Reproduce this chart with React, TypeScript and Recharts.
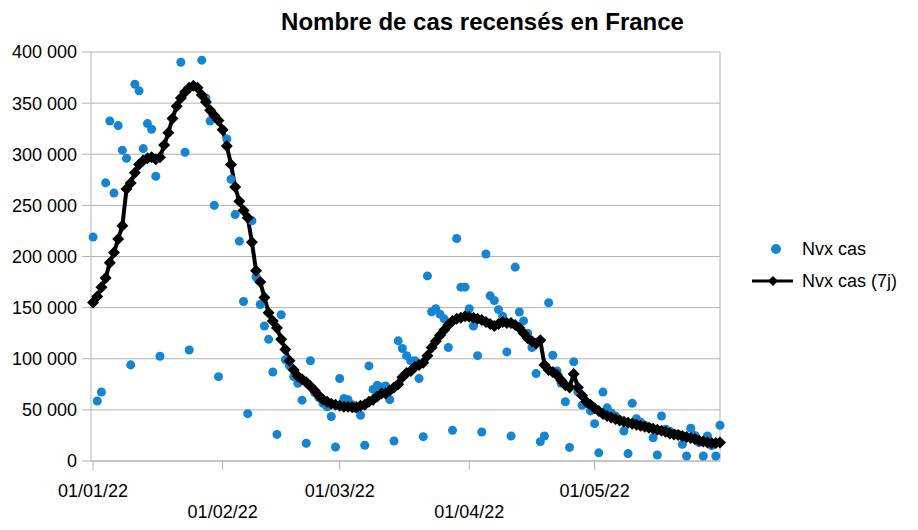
import React from 'react';
import {
  ComposedChart,
  Scatter,
  Line,
  XAxis,
  YAxis,
  CartesianGrid,
  ReferenceLine,
  Legend
} from 'recharts';

// day index 0 = 01/01/22, last = 31/05/22
const monthTicks = [0, 31, 59, 90, 120];
const monthLabels = ['01/01/22', '01/02/22', '01/03/22', '01/04/22', '01/05/22'];
const yTicks = [0, 50000, 100000, 150000, 200000, 250000, 300000, 350000, 400000];
const Y_MAX = 400000;
const LAST_DAY = 150;

// daily new cases (values above 400 000 fall off the chart and are not drawn)
const newCases = [
  219000, 58700, 67500, 272000, 332500, 262000, 328000, 304000, 296000, 94000,
  368500, 362000, 305500, 330000, 324500, 278500, 102500, 464800, 436200, 425200,
  405000, 390000, 302000, 108500, 501600, 428000, 392000, 355000, 332500, 250000,
  82500, 417000, 315000, 275500, 241000, 215000, 156000, 46300, 235000, 180000,
  153000, 132000, 119000, 87000, 26000, 143000, 99000, 93000, 82500, 76000,
  59500, 17300, 98000, 67000, 62000, 56500, 53000, 43500, 13700, 80700,
  61000, 60000, 55000, 51000, 44800, 15400, 93000, 70000, 74000, 72000,
  73400, 60000, 19600, 117500, 110000, 103000, 98000, 98000, 80600, 23800,
  181000, 146000, 149000, 143600, 139000, 111000, 30000, 217600, 170000, 170000,
  149000, 132000, 103000, 28400, 202500, 161500, 157000, 148000, 141500, 106700,
  24400, 189600, 145700, 137000, 125000, 111000, 85500, 18900, 24400, 154800,
  103400, 88000, 76000, 58000, 13300, 97000, 67600, 54600, 56000, 49000,
  36500, 8000, 67400, 52000, 47000, 44000, 40000, 29300, 7200, 56400,
  41400, 38000, 35000, 33000, 22800, 5900, 44000, 31000, 29000, 27000,
  26000, 16300, 4900, 32000, 25000, 18000, 4900, 24400, 15000, 4900,
  35000
];

// 7-day average
const avg7 = [
  155000, 161000, 170000, 179000, 194000, 204000, 217000, 230000, 266000, 272000,
  282000, 290000, 294000, 296000, 297000, 295000, 297000, 309000, 321000, 335000,
  347000, 355000, 361000, 365000, 367000, 365000, 358000, 351000, 343000, 338000,
  333000, 324000, 308000, 290000, 268000, 254000, 245000, 238000, 214000, 186000,
  175000, 160000, 145000, 137000, 130000, 119000, 109000, 98000, 89000, 83000,
  80000, 77000, 73000, 69000, 64000, 60000, 58000, 56000, 55000, 54000,
  53000, 53000, 52500, 52500, 54000, 55000, 58000, 60000, 63000, 66000,
  66000, 69000, 72000, 75000, 82000, 86000, 88000, 92000, 94000, 96000,
  103000, 111000, 117000, 123000, 128000, 133000, 137000, 139000, 140000, 141500,
  141000, 140000, 139000, 138000, 136000, 134000, 132000, 134000, 136000, 135000,
  135000, 133000, 130000, 125000, 120000, 117000, 115000, 118000, 94000, 89000,
  87000, 84000, 79000, 74000, 72000, 85000, 72000, 64000, 58000, 55000,
  51500, 49000, 46000, 44000, 42500, 41000, 39500, 38500, 37500, 36500,
  35500, 34500, 33500, 32500, 31500, 30500, 29500, 28500, 27000, 26000,
  25500, 24500, 23500, 22500, 21500, 20000, 19000, 18000, 17500, 17500,
  18000
];

const BLUE = '#1585d2';
const GRID = '#b3b3b3';

const lineRows = avg7.map((avg, day) => ({ day, avg }));
const scatterRows = newCases
  .map((cases, day) => ({ day, cases }))
  .filter(r => r.cases <= Y_MAX);

const formatY = (v: number) => (v === 0 ? '0' : `${Math.round(v / 1000)} 000`);

const diamondPath = (cx: number, cy: number, s = 6) =>
  `M${cx},${cy - s} L${cx + s},${cy} L${cx},${cy + s} L${cx - s},${cy} Z`;

const Diamond = (props: any) => {
  const { cx, cy, index } = props;
  if (cx == null || cy == null) return null;
  return <path key={`dm-${index}`} d={diamondPath(cx, cy)} fill="#000" />;
};

// labels alternate between two rows
const MonthTick = (props: any) => {
  const { x, y, payload } = props;
  const i = monthTicks.indexOf(payload.value);
  return (
    <text x={x} y={y} dy={i % 2 === 0 ? 24.5 : 45.5} textAnchor="middle" fontSize={18} fill="#000">
      {monthLabels[i]}
    </text>
  );
};

const LegendBox = () => (
  <div style={{ fontSize: 18, color: '#000' }}>
    <div style={{ display: 'flex', alignItems: 'center', height: 32 }}>
      <svg width={52} height={22}>
        <circle cx={26} cy={11} r={5} fill={BLUE} />
      </svg>
      <span>Nvx cas</span>
    </div>
    <div style={{ display: 'flex', alignItems: 'center', height: 32 }}>
      <svg width={52} height={22}>
        <line x1={2} y1={11} x2={43} y2={11} stroke="#000" strokeWidth={3} />
        <path d={diamondPath(23, 11, 5)} fill="#000" />
      </svg>
      <span>Nvx cas (7j)</span>
    </div>
  </div>
);

const App: React.FC = () => {
  return (
    <div
      style={{
        position: 'relative',
        width: 902,
        height: 514,
        fontFamily: '"Liberation Sans", Arial, sans-serif'
      }}
    >
      <div
        style={{
          position: 'absolute',
          left: 174.5,
          top: 0,
          width: 600,
          textAlign: 'center',
          fontSize: 24,
          fontWeight: 'bold',
          color: '#000',
          zIndex: 1
        }}
      >
        Nombre de cas recensés en France
      </div>
      <ComposedChart
        width={902}
        height={514}
        data={lineRows}
        margin={{ top: 44, right: 190, bottom: 0, left: 0 }}
      >
        <CartesianGrid vertical={false} stroke={GRID} />
        <XAxis
          dataKey="day"
          type="number"
          domain={[-0.5, LAST_DAY]}
          ticks={monthTicks}
          interval={0}
          height={61}
          tickSize={9}
          stroke={GRID}
          tick={<MonthTick />}
        />
        <YAxis
          type="number"
          domain={[0, Y_MAX]}
          ticks={yTicks}
          interval={0}
          width={83}
          tickSize={9}
          tickMargin={5}
          stroke={GRID}
          tickFormatter={formatY}
          tick={{ fill: '#000', fontSize: 18 }}
        />
        <ReferenceLine x={LAST_DAY} stroke={GRID} />
        <Scatter
          data={scatterRows}
          dataKey="cases"
          fill={BLUE}
          isAnimationActive={false}
        />
        <Line
          dataKey="avg"
          stroke="#000"
          strokeWidth={4}
          dot={Diamond}
          activeDot={false}
          isAnimationActive={false}
        />
        <Legend
          layout="horizontal"
          align="center"
          verticalAlign="middle"
          content={() => <LegendBox />}
          wrapperStyle={{ left: 742, top: 225, width: 170 }}
        />
      </ComposedChart>
    </div>
  );
};

export default App;
